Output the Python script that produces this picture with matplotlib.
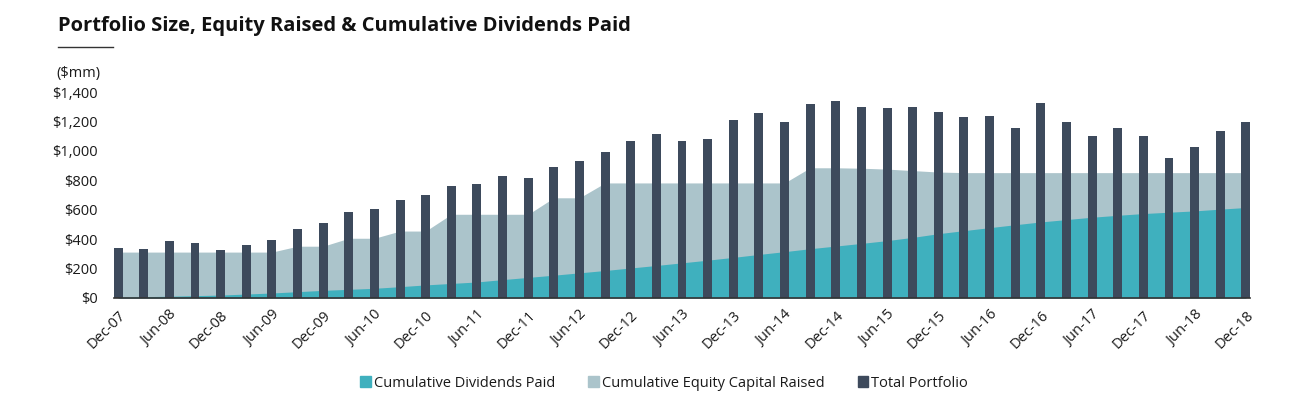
import numpy as np
import matplotlib.pyplot as plt
from matplotlib.patches import Patch
from matplotlib.lines import Line2D

plt.rcParams['font.family'] = ['Open Sans', 'DejaVu Sans']

# quarterly, Dec-07 .. Dec-18 ($mm)
quarters = ["Dec-07", "Mar-08", "Jun-08", "Sep-08", "Dec-08", "Mar-09", "Jun-09", "Sep-09",
            "Dec-09", "Mar-10", "Jun-10", "Sep-10", "Dec-10", "Mar-11", "Jun-11", "Sep-11",
            "Dec-11", "Mar-12", "Jun-12", "Sep-12", "Dec-12", "Mar-13", "Jun-13", "Sep-13",
            "Dec-13", "Mar-14", "Jun-14", "Sep-14", "Dec-14", "Mar-15", "Jun-15", "Sep-15",
            "Dec-15", "Mar-16", "Jun-16", "Sep-16", "Dec-16", "Mar-17", "Jun-17", "Sep-17",
            "Dec-17", "Mar-18", "Jun-18", "Sep-18", "Dec-18"]

total_portfolio = [341, 335, 387, 373, 328, 362, 394, 469, 512, 587, 605, 665, 703, 760, 778,
                   828, 813, 890, 931, 990, 1067, 1115, 1065, 1079, 1209, 1256, 1199, 1318,
                   1341, 1300, 1293, 1297, 1263, 1231, 1236, 1154, 1327, 1195, 1099, 1154,
                   1099, 949, 1026, 1133, 1193]

equity_raised = [312, 312, 312, 312, 312, 312, 312, 352, 352, 406, 406, 455, 455, 569, 569,
                 569, 569, 681, 681, 782, 782, 782, 782, 782, 782, 782, 782, 885, 885, 882,
                 876, 866, 856, 852, 852, 852, 852, 852, 852, 852, 852, 852, 852, 852, 852]

dividends_paid = [5, 9, 12, 16, 20, 27, 34, 43, 52, 59, 66, 77, 89, 99, 109, 125, 140, 155,
                  171, 187, 204, 221, 239, 257, 276, 296, 315, 335, 353, 371, 390, 412, 437,
                  458, 478, 498, 517, 533, 549, 562, 574, 583, 592, 604, 615]

TEAL = "#3fb0be"
LIGHT = "#abc4cb"
DARK = "#3d4a5c"
TEXT = "#1a1a1a"

x = np.arange(len(quarters))

fig = plt.figure(figsize=(12.9, 4.15), dpi=100)
ax = fig.add_axes([114 / 1290, 1 - 298 / 415, 1136 / 1290, 206 / 415])

ax.fill_between(x, 0, equity_raised, color=LIGHT, linewidth=0, zorder=1)
ax.fill_between(x, 0, dividends_paid, color=TEAL, linewidth=0, zorder=2)
ax.bar(x, total_portfolio, width=0.35, color=DARK, zorder=3)

ax.set_xlim(-0.16, len(quarters) - 0.84)
ax.set_ylim(0, 1400)
ax.set_yticks(range(0, 1401, 200))
ax.set_yticklabels(["${:,}".format(v) for v in range(0, 1401, 200)], fontsize=10.5, color=TEXT)
ax.set_xticks(x[::2])
ax.set_xticklabels(quarters[::2], rotation=45, ha="right", rotation_mode="anchor",
                   fontsize=10.5, color=TEXT)
ax.tick_params(axis="both", length=0)
ax.tick_params(axis="x", pad=7)
ax.tick_params(axis="y", pad=11.5)

for side in ["top", "right", "left"]:
    ax.spines[side].set_visible(False)
ax.spines["bottom"].set_color("#333333")
ax.spines["bottom"].set_linewidth(1.2)
ax.spines["bottom"].set_zorder(4)

fig.text(58 / 1290, 1 - 26 / 415, "Portfolio Size, Equity Raised & Cumulative Dividends Paid",
         fontsize=14.5, fontweight="bold", color="#111111", va="center", ha="left")
fig.add_artist(Line2D([58 / 1290, 113 / 1290], [1 - 47.5 / 415, 1 - 47.5 / 415],
                      color="#333333", linewidth=1))
fig.text(56 / 1290, 1 - 73 / 415, "($mm)", fontsize=10.5, color=TEXT, va="center", ha="left")

handles = [Patch(color=TEAL, label="Cumulative Dividends Paid"),
           Patch(color=LIGHT, label="Cumulative Equity Capital Raised"),
           Patch(color=DARK, label="Total Portfolio")]
fig.legend(handles=handles, loc="center", bbox_to_anchor=(664 / 1290, 1 - 383 / 415), ncol=3,
           frameon=False, fontsize=10.5, handlelength=0.7, handleheight=0.7,
           handletextpad=0.2, columnspacing=2.3, labelcolor=TEXT)

fig.savefig("out.png", dpi=100)
